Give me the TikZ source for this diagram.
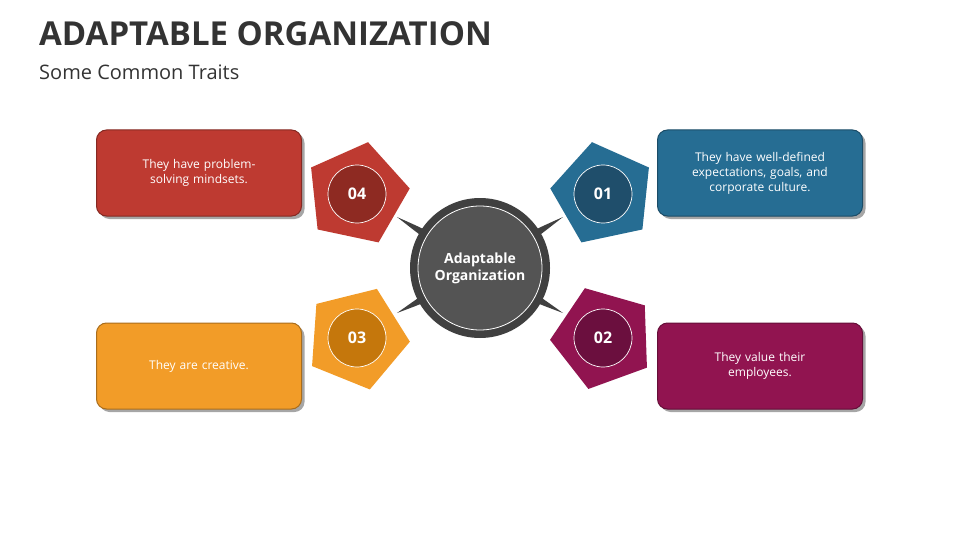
\documentclass[tikz,border=0pt]{standalone}
\usepackage{fontspec}
\setmainfont{Open Sans}
\usetikzlibrary{shapes.geometric,calc}
\definecolor{cred}{HTML}{BE3A31}\definecolor{dred}{HTML}{8E2A22}
\definecolor{cblue}{HTML}{266D93}\definecolor{dblue}{HTML}{1F4E6B}
\definecolor{corange}{HTML}{F29C28}\definecolor{dorange}{HTML}{C5770C}
\definecolor{cmag}{HTML}{911450}\definecolor{dmag}{HTML}{6B0F3E}
\definecolor{tgray}{HTML}{333333}
\begin{document}
\begin{tikzpicture}[x=1pt,y=-1pt,
 tbox/.style={draw=#1!70!black,line width=1pt,fill=#1,rounded corners=10pt,minimum width=205pt,minimum height=86pt,text=white,font=\fontsize{12}{15}\selectfont,align=center,text width=170pt},
 shad/.style={fill=black!35,rounded corners=10pt,minimum width=205pt,minimum height=86pt},
 pent/.style={regular polygon,regular polygon sides=5,minimum size=106pt,inner sep=0pt,fill=#1},
 num/.style={circle,draw=white,line width=0.7pt,fill=#1,minimum size=58pt,text=white,font=\bfseries\fontsize{16}{16}\selectfont},
 spike/.style={fill=black!75}]
\useasboundingbox (0,0) rectangle (960,540);
\node[anchor=base west,text=tgray,font=\bfseries\fontsize{33}{33}\selectfont,inner sep=0pt] (title) at (39,46) {ADAPTABLE ORGANIZATION};
\node[anchor=base west,text=tgray,font=\fontsize{20}{20}\selectfont,inner sep=0pt] (sub) at (39,80) {Some Common Traits};
% spikes
\foreach \tx/\ty in {397/217,563/217,397/313,563/313}{
 \fill[black!75] (480,268) .. controls ($(480,268)!0.5!(\tx,\ty)+(0,-7)$) .. (\tx,\ty) .. controls ($(480,268)!0.5!(\tx,\ty)+(0,7)$) .. (480,268);
}
\node[circle,fill=black!75,minimum size=140pt] (c0) at (480,268) {};
\node[circle,fill=black!67,draw=white,line width=0.8pt,minimum size=124pt,text=white,font=\bfseries\fontsize{14}{17}\selectfont,align=center] (c) at (480,268) {Adaptable\\Organization};
% boxes
\foreach \n/\x/\y in {s1/202/176,s2/763/176,s3/202/369,s4/763/369}{\node[shad] (\n) at (\x,\y) {};}
\node[tbox=cred] (b4) at (199,173) {They have problem-\\solving mindsets.};
\node[tbox=cblue] (b1) at (760,173) {They have well-defined\\expectations, goals, and\\corporate culture.};
\node[tbox=corange] (b3) at (199,366) {They are creative.};
\node[tbox=cmag] (b2) at (760,366) {They value their\\employees.};
% pentagons
\node[pent=cred,rotate=-12] (p4) at (357,194) {};
\node[pent=cblue,rotate=12] (p1) at (603,194) {};
\node[pent=corange,rotate=-22] (p3) at (357,338) {};
\node[pent=cmag,rotate=20] (p2) at (603,338) {};
\node[num=dred] (n4) at (p4.center) {04};
\node[num=dblue] (n1) at (p1.center) {01};
\node[num=dorange] (n3) at (p3.center) {03};
\node[num=dmag] (n2) at (p2.center) {02};
\end{tikzpicture}
\end{document}
